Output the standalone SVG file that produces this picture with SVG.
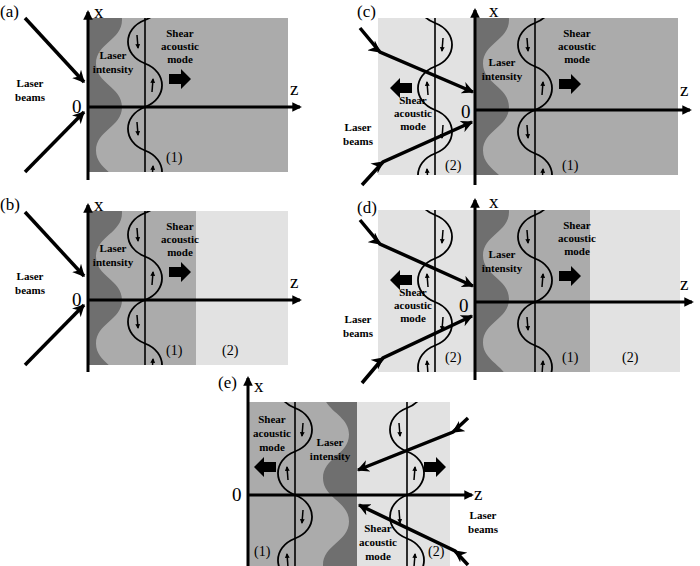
<svg xmlns="http://www.w3.org/2000/svg" xmlns:xlink="http://www.w3.org/1999/xlink" width="700" height="566" viewBox="0 0 700 566">
<style>
.ax{stroke:#000;stroke-width:3;fill:none}
.ln{stroke:#000;stroke-width:1.6;fill:none}
.wv{stroke:#000;stroke-width:1.8;fill:none}
.beam{stroke:#000;stroke-width:3.5;fill:none;marker-end:url(#bh)}
.beam2{stroke:#000;stroke-width:3.5;fill:none;marker-mid:url(#bh);marker-end:url(#bh)}
.lab{font-family:"Liberation Serif",serif;font-weight:bold;font-size:11px;text-anchor:middle}
.ax-t{font-family:"Liberation Serif",serif;font-size:19px}
.pl{font-family:"Liberation Serif",serif;font-size:17px}
.num{font-family:"Liberation Serif",serif;font-size:14px}
.dark{fill:#6f6f6f}
.mid{fill:#ababab}
.lt{fill:#e2e2e2}
</style>
<defs>
<marker id="ah" viewBox="0 0 10 10" refX="8" refY="5" markerWidth="3.2" markerHeight="3.2" orient="auto"><path d="M0 0L10 5L0 10z"/></marker>
<marker id="bh" viewBox="0 0 10 10" refX="9" refY="5" markerWidth="3.5" markerHeight="3.5" orient="auto"><path d="M0 0L10 5L0 10L3 5z"/></marker>
<g id="W">
<path class="wv" d="M0 -130.5c22.7 8.7 22.7 34.8 0 43.5c-22.7 8.7 -22.7 34.8 0 43.5c22.7 8.7 22.7 34.8 0 43.5c-22.7 8.7 -22.7 34.8 0 43.5c22.7 8.7 22.7 34.8 0 43.5c-22.7 8.7 -22.7 34.8 0 43.5"/>
<g stroke="#000" stroke-width="1.5" marker-end="url(#ah)">
<line x1="7" y1="-15" x2="8" y2="-28"/><line x1="-8" y1="-72" x2="-7" y2="-59"/>
<line x1="-8" y1="15" x2="-7" y2="28"/><line x1="7" y1="72" x2="8" y2="59"/>
<line x1="7" y1="-102" x2="8" y2="-115"/>
</g>
</g>
<path id="D" d="M0 -130.5L8 -130.5c0 20 26 23.5 26 43.5c0 20 -26 23.5 -26 43.5c0 20 26 23.5 26 43.5c0 20 -26 23.5 -26 43.5c0 20 26 23.5 26 43.5c0 20 -26 23.5 -26 43.5L0 130.5z"/>
<path id="FA" d="M0 -5h12v-5l10 10l-10 10v-5h-12z"/>
<clipPath id="ca"><rect x="88" y="18" width="200" height="154"/></clipPath>
<clipPath id="cb"><rect x="88" y="211" width="200" height="154"/></clipPath>
<clipPath id="cc"><rect x="378" y="18" width="300" height="157"/></clipPath>
<clipPath id="cd"><rect x="378" y="210" width="302" height="162"/></clipPath>
<clipPath id="ce"><rect x="248" y="402" width="202" height="164"/></clipPath>
</defs>

<g id="panel-a">
<rect class="mid" x="88" y="18" width="200" height="154"/>
<g clip-path="url(#ca)">
<use href="#D" class="dark" transform="translate(88 107)"/>
<line class="ln" x1="145" y1="18" x2="145" y2="172"/>
<use href="#W" transform="translate(145 107)"/>
</g>
<text class="lab" x="113" y="59">Laser</text><text class="lab" x="113" y="73">intensity</text>
<text class="lab" x="180" y="37">Shear</text><text class="lab" x="180" y="50">acoustic</text><text class="lab" x="180" y="63">mode</text>
<use href="#FA" transform="translate(169 79)"/>
<text class="num" x="166" y="162">(1)</text>
</g>

<g id="panel-b">
<rect class="lt" x="88" y="211" width="200" height="154"/>
<rect class="mid" x="88" y="211" width="108" height="154"/>
<g clip-path="url(#cb)">
<use href="#D" class="dark" transform="translate(88 300)"/>
<line class="ln" x1="145" y1="211" x2="145" y2="365"/>
<use href="#W" transform="translate(145 300)"/>
</g>
<text class="lab" x="113" y="252">Laser</text><text class="lab" x="113" y="266">intensity</text>
<text class="lab" x="180" y="230">Shear</text><text class="lab" x="180" y="243">acoustic</text><text class="lab" x="180" y="256">mode</text>
<use href="#FA" transform="translate(169 272)"/>
<text class="num" x="166" y="355">(1)</text><text class="num" x="222" y="355">(2)</text>
</g>

<g id="panel-c">
<rect class="lt" x="378" y="18" width="97" height="157"/>
<rect class="mid" x="475" y="18" width="203" height="157"/>
<g clip-path="url(#cc)">
<use href="#D" class="dark" transform="translate(475 107)"/>
<line class="ln" x1="435" y1="18" x2="435" y2="175"/>
<line class="ln" x1="535" y1="18" x2="535" y2="175"/>
<use href="#W" transform="translate(435 110) scale(-1 1)"/>
<use href="#W" transform="translate(535 110)"/>
</g>
<text class="lab" x="502" y="66">Laser</text><text class="lab" x="502" y="80">intensity</text>
<text class="lab" x="577" y="37">Shear</text><text class="lab" x="577" y="50">acoustic</text><text class="lab" x="577" y="63">mode</text>
<use href="#FA" transform="translate(559 84)"/>
<text class="lab" x="413" y="104">Shear</text><text class="lab" x="413" y="117">acoustic</text><text class="lab" x="413" y="130">mode</text>
<use href="#FA" transform="translate(412 88) scale(-1 1)"/>
<text class="num" x="445" y="170">(2)</text><text class="num" x="562" y="170">(1)</text>
</g>

<g id="panel-d">
<rect class="lt" x="378" y="210" width="302" height="162"/>
<rect class="mid" x="475" y="210" width="115" height="162"/>
<g clip-path="url(#cd)">
<use href="#D" class="dark" transform="translate(475 299)"/>
<line class="ln" x1="435" y1="210" x2="435" y2="372"/>
<line class="ln" x1="535" y1="210" x2="535" y2="372"/>
<use href="#W" transform="translate(435 302) scale(-1 1)"/>
<use href="#W" transform="translate(535 302)"/>
</g>
<text class="lab" x="502" y="258">Laser</text><text class="lab" x="502" y="272">intensity</text>
<text class="lab" x="577" y="229">Shear</text><text class="lab" x="577" y="242">acoustic</text><text class="lab" x="577" y="255">mode</text>
<use href="#FA" transform="translate(559 276)"/>
<text class="lab" x="413" y="296">Shear</text><text class="lab" x="413" y="309">acoustic</text><text class="lab" x="413" y="322">mode</text>
<use href="#FA" transform="translate(412 280) scale(-1 1)"/>
<text class="num" x="445" y="362">(2)</text><text class="num" x="562" y="362">(1)</text><text class="num" x="622" y="362">(2)</text>
</g>

<g id="panel-e">
<rect class="lt" x="357" y="402" width="93" height="164"/>
<rect class="mid" x="248" y="402" width="109" height="164"/>
<g clip-path="url(#ce)">
<use href="#D" class="dark" transform="translate(357 478) scale(-1 1)"/>
<line class="ln" x1="295" y1="402" x2="295" y2="566"/>
<line class="ln" x1="407" y1="402" x2="407" y2="566"/>
<use href="#W" transform="translate(295 495) scale(-1 1)"/>
<use href="#W" transform="translate(407 495)"/>
</g>
<text class="lab" x="272" y="423">Shear</text><text class="lab" x="272" y="437">acoustic</text><text class="lab" x="272" y="451">mode</text>
<use href="#FA" transform="translate(276 467) scale(-1 1)"/>
<text class="lab" x="330" y="446">Laser</text><text class="lab" x="330" y="460">intensity</text>
<use href="#FA" transform="translate(424 467)"/>
<text class="lab" x="378" y="532">Shear</text><text class="lab" x="378" y="546">acoustic</text><text class="lab" x="378" y="560">mode</text>
<text class="lab" x="483" y="519">Laser</text><text class="lab" x="483" y="533">beams</text>
<text class="num" x="254" y="556">(1)</text><text class="num" x="428" y="556">(2)</text>
</g>

<g id="connectors">
<line class="ax" x1="88" y1="180" x2="88" y2="12" marker-end="url(#ah)"/>
<line class="ax" x1="88" y1="107" x2="300" y2="107" marker-end="url(#ah)"/>
<path class="beam" d="M25 18L84 82"/><path class="beam" d="M25 172L84 112"/>
<line class="ax" x1="88" y1="372" x2="88" y2="205" marker-end="url(#ah)"/>
<line class="ax" x1="88" y1="300" x2="300" y2="300" marker-end="url(#ah)"/>
<path class="beam" d="M25 212L84 276"/><path class="beam" d="M25 365L84 305"/>
<line class="ax" x1="475" y1="185" x2="475" y2="10" marker-end="url(#ah)"/>
<line class="ax" x1="475" y1="110" x2="690" y2="110" marker-end="url(#ah)"/>
<path class="beam2" d="M360 28L380 52L473 92"/><path class="beam2" d="M362 185L383 162L472 122"/>
<line class="ax" x1="475" y1="380" x2="475" y2="200" marker-end="url(#ah)"/>
<line class="ax" x1="475" y1="302" x2="692" y2="302" marker-end="url(#ah)"/>
<path class="beam2" d="M360 220L380 244L473 286"/><path class="beam2" d="M362 383L383 358L472 316"/>
<line class="ax" x1="248" y1="566" x2="248" y2="378" marker-end="url(#ah)"/>
<line class="ax" x1="248" y1="495" x2="472" y2="495" marker-end="url(#ah)"/>
<path class="beam2" d="M468 418L453 432L358 470"/><path class="beam2" d="M468 565L455 551L359 505"/>
</g>

<g id="labels">
<text class="pl" x="0" y="17">(a)</text><text class="pl" x="0" y="210">(b)</text>
<text class="pl" x="357" y="17">(c)</text><text class="pl" x="357" y="213">(d)</text><text class="pl" x="218" y="388">(e)</text>
<text class="ax-t" x="94" y="18">x</text><text class="ax-t" x="290" y="95">z</text><text class="ax-t" x="72" y="113">0</text>
<text class="ax-t" x="94" y="211">x</text><text class="ax-t" x="290" y="288">z</text><text class="ax-t" x="72" y="306">0</text>
<text class="ax-t" x="489" y="17">x</text><text class="ax-t" x="680" y="96">z</text><text class="ax-t" x="461" y="118">0</text>
<text class="ax-t" x="489" y="208">x</text><text class="ax-t" x="680" y="290">z</text><text class="ax-t" x="459" y="312">0</text>
<text class="ax-t" x="254" y="392">x</text><text class="ax-t" x="474" y="500">z</text><text class="ax-t" x="232" y="501">0</text>
<text class="lab" x="30" y="87">Laser</text><text class="lab" x="30" y="101">beams</text>
<text class="lab" x="30" y="280">Laser</text><text class="lab" x="30" y="294">beams</text>
<text class="lab" x="358" y="131">Laser</text><text class="lab" x="358" y="145">beams</text>
<text class="lab" x="358" y="323">Laser</text><text class="lab" x="358" y="337">beams</text>
</g>
</svg>
